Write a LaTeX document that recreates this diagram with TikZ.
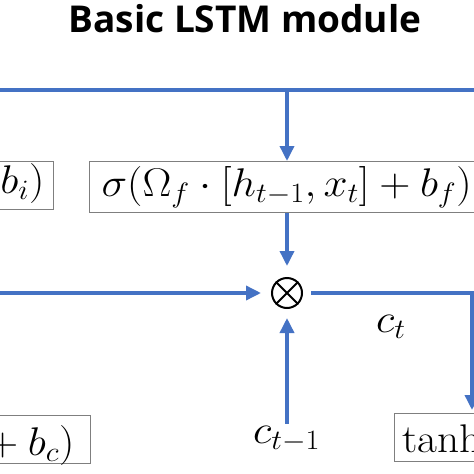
\RequirePackage{fix-cm}
\documentclass[tikz,border=0pt]{standalone}
\usepackage{fontspec}
\usepackage{graphicx}
\newfontfamily\titlefont{Open Sans}
\usetikzlibrary{arrows.meta}
\definecolor{lblue}{HTML}{4472C4}
\definecolor{bgray}{HTML}{7F7F7F}
\newcommand{\wmath}[1]{\scalebox{1.08}[1]{$#1$}}
\begin{document}
\begin{tikzpicture}[x=1pt,y=-1pt,
  conn/.style={draw=lblue, line width=3.5pt},
  arr/.style={conn, -{Triangle[width=14pt,length=15pt]}},
  eqbox/.style={draw=bgray, line width=1.3pt, inner ysep=0pt, font=\fontsize{40}{48}\selectfont},
  lab/.style={inner sep=0pt, font=\fontsize{40}{48}\selectfont}]
\useasboundingbox (0,0) rectangle (474,474);
\node[anchor=base, inner sep=0pt, font=\titlefont\bfseries\fontsize{37}{43}\selectfont] (title) at (245,32) {Basic LSTM module};
% boxes
\node[eqbox, anchor=north west, inner xsep=12pt, text height=35pt, text depth=16pt] (fgate) at (89,161)
  {\wmath{\sigma(\Omega_f\cdot[h_{t-1},x_t]+b_f)}\hspace{12pt}};
\node[eqbox, anchor=north east, inner xsep=9pt, text height=32pt, text depth=16pt] (igate) at (54,161)
  {\wmath{\sigma(\Omega_i\cdot[h_{t-1},x_t]+b_i)}};
\node[eqbox, anchor=north east, inner xsep=16pt, text height=40pt, text depth=8pt] (cgate) at (91,415)
  {\wmath{\tanh(\Omega_c\cdot[h_{t-1},x_t]+b_c)}};
\node[eqbox, anchor=north west, inner xsep=8pt, text height=39pt, text depth=9pt] (tanhbox) at (394,413)
  {\wmath{\tanh(c_t)}};
% multiplier
\node[circle, draw=black, line width=2pt, minimum size=30pt, inner sep=0pt] (mul) at (287,293) {};
\draw[black, line width=2pt] (mul.north west) -- (mul.south east) (mul.north east) -- (mul.south west);
% labels
\node[lab, anchor=base west] (ct) at (376,332) {\wmath{c_t}};
\node[lab, anchor=base west] (ctm) at (253,443) {\wmath{c_{t-1}}};
% connectors
\coordinate (tl) at (0,90);
\coordinate (tr) at (474,90);
\coordinate (j) at (287,90);
\coordinate (inl) at (0,293);
\coordinate (corner) at (472,293);
\draw[conn] (tl) -- (tr);
\draw[arr] (j) -- (j |- fgate.north);
\draw[arr, shorten >=11pt] (j |- fgate.south) -- (mul.north);
\draw[arr, shorten >=10pt] (inl) -- (mul.west);
\draw[arr, shorten <=2pt, shorten >=9pt] (mul.south |- ctm.north) -- (mul.south);
\draw[arr, shorten <=8pt, shorten >=3pt] (mul.east) -- (corner) -- (corner |- tanhbox.north);
\end{tikzpicture}
\end{document}
